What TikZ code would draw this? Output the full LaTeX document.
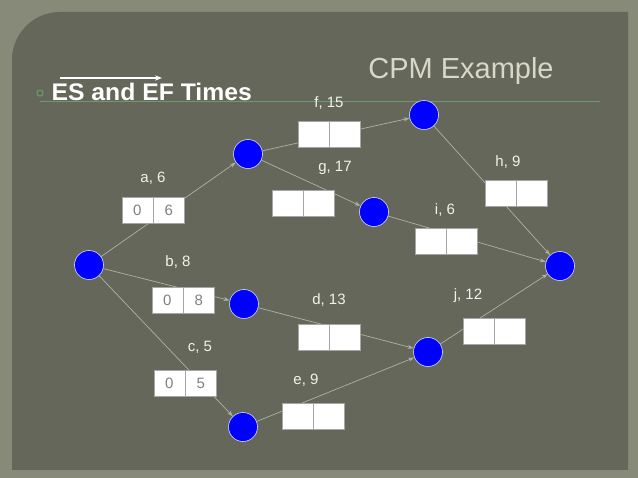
\documentclass[tikz,border=0pt]{standalone}
\usepackage{fontspec}
\setmainfont{Liberation Sans}
\usetikzlibrary{arrows.meta}
\definecolor{outerbg}{HTML}{878A78}
\definecolor{panel}{HTML}{65675A}
\definecolor{edgec}{HTML}{A9B5A0}
\definecolor{lbl}{HTML}{F2F2EA}
\definecolor{titlec}{HTML}{D8D8C8}
\definecolor{rulec}{HTML}{6F9A6C}
\tikzset{
 ev/.style={circle,fill=blue,draw=white!85!blue,line width=0.6pt,minimum size=29pt,inner sep=0},
 half/.style={draw=gray!70,fill=white,minimum width=31pt,minimum height=26pt,inner sep=0,font=\fontsize{15}{15}\selectfont,text=gray},
 lab/.style={font=\fontsize{15}{15}\selectfont,text=lbl},
 conn/.style={draw=edgec,line width=0.7pt,-{Stealth[length=6pt,width=4pt]}},
}
\newcommand{\tbox}[4]{%
 \node[half,anchor=east] (#1L) at (#2) {#3};
 \node[half,anchor=west] (#1R) at (#2) {#4};}
\begin{document}
\begin{tikzpicture}[x=1pt,y=-1pt]
\useasboundingbox (0,0) rectangle (638,478);
\fill[outerbg] (0,0) rectangle (638,478);
\fill[panel] (12,470) -- (12,60) to[out=90,in=180] (60,12) -- (628,12) -- (628,470) -- cycle;
\draw[rulec,line width=0.8pt] (40,101) -- (600,101);
\node[text=titlec,font=\fontsize{29}{29}\selectfont] (title) at (461,71) {CPM Example};
\node[draw=rulec,circle,inner sep=2.2pt,line width=1pt] (bul) at (40,93) {};
\node[font=\bfseries\fontsize{24}{24}\selectfont,text=white,anchor=west,xscale=1.03] (es) at (48,92) {ES and EF Times};
\coordinate (ar1) at (60,78); \coordinate (ar2) at (162,78);
\draw[white,line width=1.5pt,-{Stealth[length=7pt]}] (ar1) -- (ar2);
% nodes
\node[ev] (s) at (89,265) {};
\node[ev] (n1) at (248,154) {};
\node[ev] (n2) at (244,304) {};
\node[ev] (n3) at (243,427) {};
\node[ev] (n4) at (424,115) {};
\node[ev] (n5) at (374,212) {};
\node[ev] (n6) at (428,352) {};
\node[ev] (n7) at (560,266) {};
% edges
\draw[conn] (s) -- (n1);
\draw[conn] (s) -- (n2);
\draw[conn] (s) -- (n3);
\draw[conn] (n1) -- (n4);
\draw[conn] (n1) -- (n5);
\draw[conn] (n4) -- (n7);
\draw[conn] (n5) -- (n7);
\draw[conn] (n2) -- (n6);
\draw[conn] (n3) -- (n6);
\draw[conn] (n6) -- (n7);
% boxes
\tbox{a}{153,210}{0}{6}
\tbox{b}{183,300}{0}{8}
\tbox{c}{185,383}{0}{5}
\tbox{f}{329,134}{}{}
\tbox{g}{303,203}{}{}
\tbox{h}{516,193}{}{}
\tbox{i}{446,241}{}{}
\tbox{d}{329,337}{}{}
\tbox{e}{313,416}{}{}
\tbox{j}{494,331}{}{}
% labels
\node[lab] (la) at (153,178) {a, 6};
\node[lab] (lb) at (178,262) {b, 8};
\node[lab] (lc) at (200,347) {c, 5};
\node[lab] (lf) at (329,103) {f, 15};
\node[lab] (lg) at (335,168) {g, 17};
\node[lab] (lh) at (508,162) {h, 9};
\node[lab] (li) at (445,210) {i, 6};
\node[lab] (ld) at (329,300) {d, 13};
\node[lab] (le) at (306,380) {e, 9};
\node[lab] (lj) at (468,296) {j, 12};
\end{tikzpicture}
\end{document}
